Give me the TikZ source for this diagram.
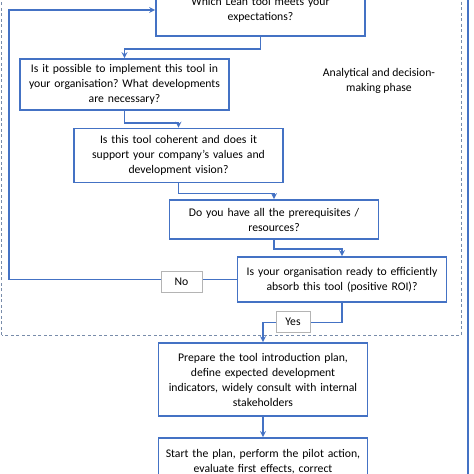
\documentclass[tikz,border=0pt]{standalone}
\usepackage{fontspec}
\setmainfont{Carlito}
\usetikzlibrary{positioning, arrows}
\definecolor{boxblue}{RGB}{68,114,196}
\definecolor{phasegray}{RGB}{120,140,170}
\definecolor{labelgray}{RGB}{180,180,180}
\frenchspacing

\begin{document}
\begin{tikzpicture}[x=1pt,y=1pt,>=stealth,
    box/.style={draw=boxblue,line width=1.8pt,text width=205pt,inner sep=2pt,align=center,font=\fontsize{11.7}{15}\selectfont},
    answer/.style={draw=labelgray,fill=white,line width=0.8pt,minimum width=41pt,minimum height=21pt,font=\fontsize{11.7}{13}\selectfont},
    flow/.style={->,draw=boxblue,line width=1.6pt}]
    \useasboundingbox (0,0) rectangle (474,-474);

    % phase frame and return line
    \draw[phasegray,dash pattern=on 3pt off 2.5pt,line width=1pt] (1.5,-335) rectangle (461,20);
    \node[align=center,font=\fontsize{11.7}{15}\selectfont] (phase) at (379,-81) {Analytical and decision-\\making phase};
    \coordinate (rtop) at (468,20);
    \coordinate (rbot) at (468,-490);
    \draw[boxblue,line width=1.6pt] (rtop) -- (rbot);

    \node[box,minimum height=52pt] (lean) at (260.5,-10) {Which Lean tool meets your\\expectations?};
    \node[box,minimum height=51pt] (possible) at (124.5,-84.5) {Is it possible to implement this tool in\\your organisation? What developments\\are necessary?};
    \node[box,minimum height=54pt] (coherent) at (178.5,-155.5) {Is this tool coherent and does it\\support your company's values and\\development vision?};
    \node[box,minimum height=39pt] (prereq) at (274,-219.5) {Do you have all the prerequisites /\\resources?};
    \node[box,minimum height=45pt] (ready) at (342,-279.5) {Is your organisation ready to efficiently\\absorb this tool (positive ROI)?};
    \node[box,minimum height=73pt] (prepare) at (263,-379.5) {Prepare the tool introduction plan,\\define expected development\\indicators, widely consult with internal\\stakeholders};
    \node[box,anchor=north,minimum height=62pt] (start) at (263,-437) {Start the plan, perform the pilot action,\\evaluate first effects, correct\\\mbox{}};

    \coordinate (loop) at (9,-10);

    \draw[flow] (lean.south) -- ++(0,-12) -| (possible.north);
    \draw[flow] (possible.south) -- ++(0,-12) -| (coherent.north);
    \draw[flow] (coherent.south) -- ++(0,-10) -| (prereq.north);
    \draw[flow] (prereq.south) -- ++(0,-9) -| (ready.north);
    \draw[flow] (ready.south) -- ++(0,-19.5) -| (prepare.north);
    \draw[flow] (prepare.south) -- (start.north);
    \draw[flow] (ready.west) -| (loop) -- (lean.west);

    \node[answer] (no) at (181.5,-281.5) {No};
    \node[answer,minimum width=34pt] (yes) at (293,-321.5) {Yes};
\end{tikzpicture}
\end{document}
